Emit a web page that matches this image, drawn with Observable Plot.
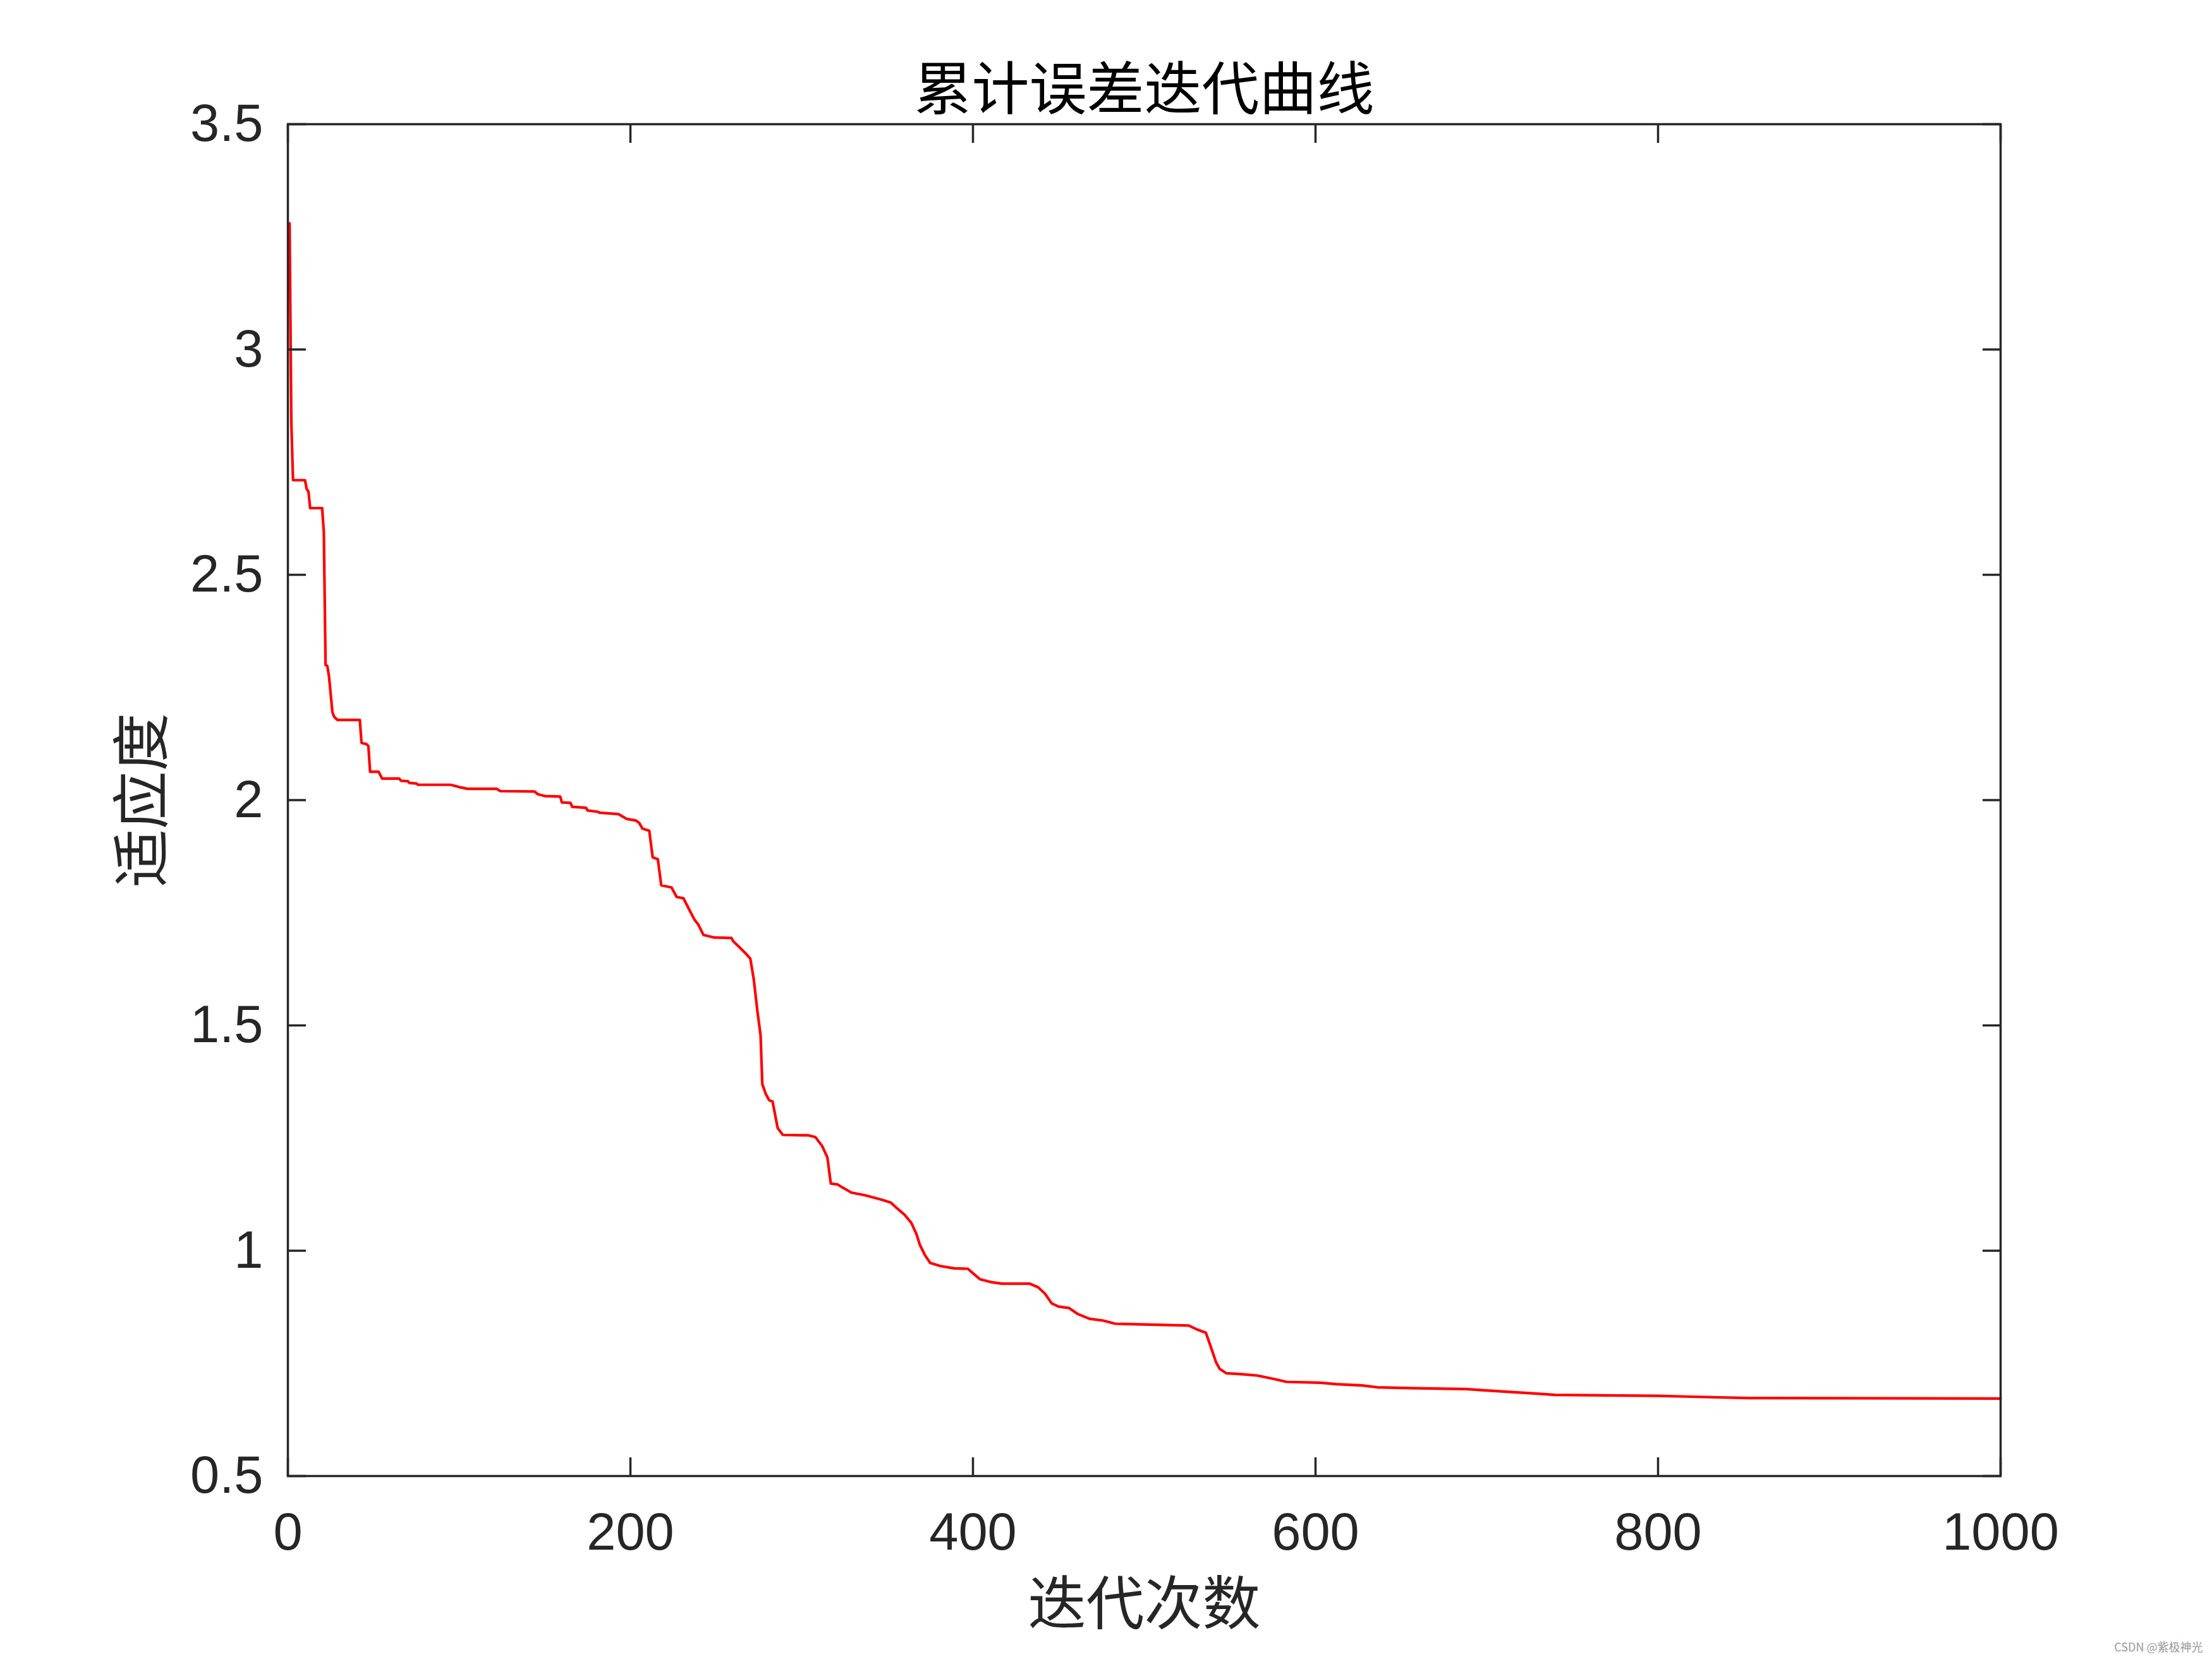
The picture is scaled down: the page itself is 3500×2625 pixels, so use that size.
<!DOCTYPE html>
<html>
<head>
<meta charset="utf-8">
<script src="https://cdn.jsdelivr.net/npm/d3@7"></script>
<script src="https://cdn.jsdelivr.net/npm/@observablehq/plot@0.6"></script>
<style>
  html, body { margin: 0; padding: 0; background: #fff; }
</style>
</head>
<body>
<div id="chart"></div>
<script>
const titleText = "累计误差迭代曲线";
const xLabelText = "迭代次数";
const yLabelText = "适应度";
const watermarkText = "CSDN @紫极神光";

const xTicks = [0, 200, 400, 600, 800, 1000];
const yTicks = [0.5, 1, 1.5, 2, 2.5, 3, 3.5];

const iters = [1, 2, 3, 10, 11, 12, 13, 20, 21, 22, 23, 24, 26, 27, 29, 42, 43, 46, 47, 48, 53, 55, 65, 66, 70, 71, 75, 76, 95, 100, 105, 122, 124, 144, 146, 150, 159, 160, 165, 166, 174, 175, 181, 182, 193, 198, 203, 205, 207, 211, 213, 216, 218, 224, 227, 231, 235, 237.5, 239.6, 242.6, 249, 259, 260, 264, 268, 270, 272, 274, 276, 277, 279, 281, 283, 286, 289, 304, 308, 312, 315, 317, 321, 324, 329, 337, 346, 352, 356, 360, 364, 367, 369, 372, 375, 381, 389, 397, 400, 404, 411, 417, 433, 438, 442, 446, 450, 456, 461, 468, 476, 483, 503, 526, 531, 536, 539, 542, 544, 548, 557, 566, 575, 583, 603, 612, 627, 636, 655, 688, 700, 725, 740, 800, 820, 853, 1000];
const fitness = [3.28, 2.84, 2.71, 2.71, 2.69, 2.685, 2.648, 2.648, 2.594, 2.30, 2.298, 2.275, 2.195, 2.185, 2.178, 2.178, 2.127, 2.124, 2.12, 2.063, 2.063, 2.048, 2.048, 2.043, 2.042, 2.038, 2.037, 2.034, 2.034, 2.029, 2.025, 2.025, 2.020, 2.019, 2.013, 2.009, 2.008, 1.995, 1.994, 1.985, 1.983, 1.977, 1.974, 1.972, 1.969, 1.958, 1.955, 1.950, 1.937, 1.932, 1.873, 1.869, 1.811, 1.806, 1.785, 1.782, 1.752, 1.734, 1.724, 1.701, 1.695, 1.694, 1.687, 1.672, 1.657, 1.648, 1.603, 1.536, 1.478, 1.37, 1.348, 1.334, 1.331, 1.272, 1.257, 1.256, 1.252, 1.232, 1.207, 1.149, 1.147, 1.140, 1.129, 1.123, 1.114, 1.107, 1.093, 1.080, 1.062, 1.037, 1.013, 0.990, 0.973, 0.966, 0.961, 0.960, 0.950, 0.937, 0.930, 0.927, 0.927, 0.919, 0.905, 0.883, 0.876, 0.873, 0.860, 0.849, 0.845, 0.838, 0.836, 0.834, 0.825, 0.818, 0.785, 0.752, 0.738, 0.728, 0.726, 0.723, 0.716, 0.709, 0.707, 0.704, 0.701, 0.697, 0.695, 0.693, 0.690, 0.684, 0.680, 0.678, 0.676, 0.673, 0.672];

const data = iters.map((it, i) => ({iter: it, fit: fitness[i]}));

const axisColor = "#262626";
const latin = "'Liberation Sans', Arial, Helvetica, sans-serif";
const cjk = "'Noto Sans CJK SC', sans-serif";

const chart = Plot.plot({
  width: 3500,
  height: 2625,
  marginLeft: 455,
  marginRight: 335,
  marginTop: 196,
  marginBottom: 290,
  style: {fontFamily: latin, background: "#fff", overflow: "visible"},
  x: {domain: [0, 1000], label: null},
  y: {domain: [0.5, 3.5], label: null},
  marks: [
    Plot.line(data, {x: "iter", y: "fit", stroke: "#ff0000", strokeWidth: 4.2, strokeLinejoin: "round"}),
    Plot.frame({stroke: axisColor, strokeWidth: 3.5}),
    Plot.axisX(xTicks, {anchor: "bottom", tickSize: -29, tickPadding: 87, color: axisColor, strokeWidth: 3.5, fontSize: 83, tickFormat: d => String(d)}),
    Plot.axisX(xTicks, {anchor: "top", tickSize: -29, color: axisColor, strokeWidth: 3.5, tickFormat: () => ""}),
    Plot.axisY(yTicks, {anchor: "left", tickSize: -29, tickPadding: 68, color: axisColor, strokeWidth: 3.5, fontSize: 83, tickFormat: d => String(d)}),
    Plot.axisY(yTicks, {anchor: "right", tickSize: -29, color: axisColor, strokeWidth: 3.5, tickFormat: () => ""}),
    Plot.text([titleText], {text: d => d, frameAnchor: "top", dy: -53, lineAnchor: "middle", fontSize: 91, fontFamily: cjk, fill: "#000"}),
    Plot.text([xLabelText], {text: d => d, frameAnchor: "bottom", dy: 205, lineAnchor: "middle", fontSize: 92, fontFamily: cjk, fill: axisColor}),
    Plot.text([yLabelText], {text: d => d, frameAnchor: "left", dx: -228, rotate: -90, lineAnchor: "middle", textAnchor: "middle", fontSize: 92, fontFamily: cjk, fill: axisColor}),
    Plot.text([watermarkText], {text: d => d, frameAnchor: "bottom-right", dx: 320, dy: 272, textAnchor: "end", lineAnchor: "middle", fontSize: 18, fontFamily: cjk, fill: "#9a9a9a"})
  ]
});
document.getElementById("chart").appendChild(chart);
</script>
</body>
</html>
